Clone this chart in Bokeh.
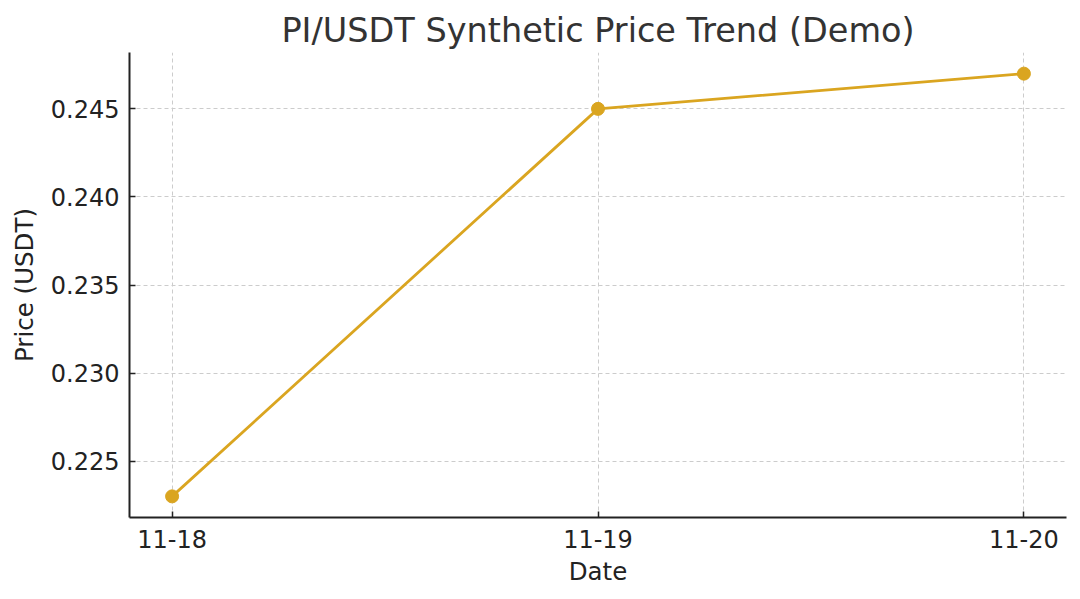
from bokeh.plotting import figure
from bokeh.models import FixedTicker, PrintfTickFormatter, Range1d
from bokeh.embed import file_html
from bokeh.resources import INLINE

dates = ["11-18", "11-19", "11-20"]
prices = [0.223, 0.245, 0.247]
y_ticks = [0.225, 0.230, 0.235, 0.240, 0.245]

xs = list(range(len(dates)))
FONT = "DejaVu Sans"
COLOR = "#DAA520"

p = figure(width=1072, height=595, output_backend="svg", toolbar_location=None,
           x_range=Range1d(-0.1, 2.1), y_range=Range1d(0.2218, 0.2482),
           min_border_left=129, min_border_right=6, min_border_top=52, min_border_bottom=78,
           title="PI/USDT Synthetic Price Trend (Demo)")
p.outline_line_color = None
p.background_fill_color = "white"
p.border_fill_color = "white"

p.title.text_font = FONT
p.title.text_font_size = "33.5px"
p.title.text_font_style = "normal"
p.title.text_color = "#333333"
p.title.align = "center"
p.title.offset = 0
p.title.standoff = 6

p.line(xs, prices, line_color=COLOR, line_width=2.8)
p.scatter(xs, prices, size=13, fill_color=COLOR, line_color=COLOR)

p.xaxis.ticker = FixedTicker(ticks=xs)
p.xaxis.major_label_overrides = {i: d for i, d in enumerate(dates)}
p.yaxis.ticker = FixedTicker(ticks=y_ticks)
p.yaxis.formatter = PrintfTickFormatter(format="%.3f")

for ax in (p.xaxis, p.yaxis):
    ax.axis_line_color = "#222222"
    ax.axis_line_width = 2
    ax.major_tick_in = 6
    ax.major_tick_out = 0
    ax.major_tick_line_width = 1.5
    ax.major_tick_line_color = "#222222"
    ax.minor_tick_line_color = None
    ax.major_label_text_font = FONT
    ax.major_label_text_font_size = "24px"
    ax.major_label_text_color = "#222222"
    ax.axis_label_text_font = FONT
    ax.axis_label_text_font_size = "24.5px"
    ax.axis_label_text_font_style = "normal"
    ax.axis_label_text_color = "#222222"

p.xaxis.axis_label = "Date"
p.yaxis.axis_label = "Price (USDT)"
p.xaxis.major_label_standoff = 12
p.yaxis.major_label_standoff = 10
p.xaxis.axis_label_standoff = 6
p.yaxis.axis_label_standoff = 9

p.grid.grid_line_color = "#cccccc"
p.grid.grid_line_dash = "4 3"
p.grid.grid_line_width = 1

open("out.html", "w").write(file_html(p, INLINE))
